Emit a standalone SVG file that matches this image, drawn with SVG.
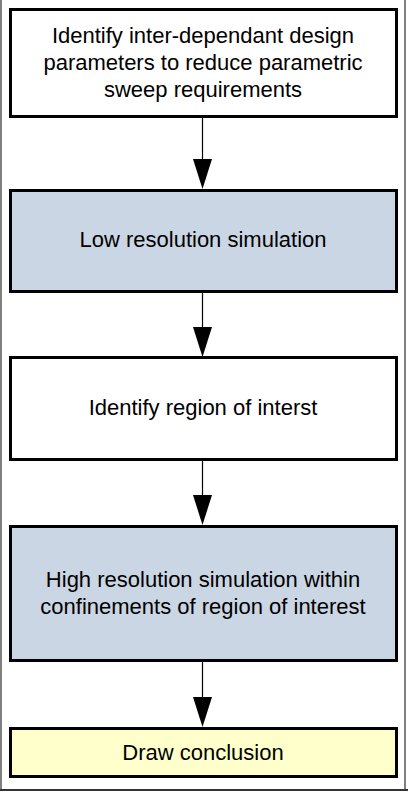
<svg xmlns="http://www.w3.org/2000/svg" width="408" height="792" viewBox="0 0 408 792">
<style>
.box{stroke:#000;stroke-width:3}
.t{font-family:"Liberation Sans",Arial,sans-serif;font-size:22px;fill:#000;text-anchor:middle}
.ln{stroke:#000;stroke-width:1.2;fill:none}
.hd{fill:#000}
</style>
<rect x="0" y="0" width="408" height="792" fill="#fff"/>
<g id="frame">
<line x1="1" y1="0" x2="1" y2="791" stroke="#808080" stroke-width="2"/>
<line x1="405" y1="0" x2="405" y2="791" stroke="#808080" stroke-width="2"/>
<line x1="0" y1="790" x2="408" y2="790" stroke="#333" stroke-width="2"/>
</g>
<g id="connectors">
<line class="ln" x1="202.5" y1="118" x2="202.5" y2="160"/>
<polygon class="hd" points="193,159 212,159 202.5,189"/>
<line class="ln" x1="202.5" y1="293" x2="202.5" y2="328"/>
<polygon class="hd" points="193,327 212,327 202.5,357"/>
<line class="ln" x1="202.5" y1="461" x2="202.5" y2="496"/>
<polygon class="hd" points="193,495 212,495 202.5,525"/>
<line class="ln" x1="202.5" y1="662" x2="202.5" y2="698"/>
<polygon class="hd" points="193,697 212,697 202.5,727"/>
</g>
<g id="n1">
<rect class="box" x="10.5" y="9.5" width="386" height="107" fill="#fff"/>
<text class="t" x="203" y="43">Identify inter-dependant design</text>
<text class="t" x="203" y="70">parameters to reduce parametric</text>
<text class="t" x="203" y="97">sweep requirements</text>
</g>
<g id="n2">
<rect class="box" x="10.5" y="190.5" width="386" height="101" fill="#cad6e4"/>
<text class="t" x="203" y="247">Low resolution simulation</text>
</g>
<g id="n3">
<rect class="box" x="10.5" y="357.5" width="386" height="102" fill="#fff"/>
<text class="t" x="203" y="415">Identify region of interst</text>
</g>
<g id="n4">
<rect class="box" x="10.5" y="526.5" width="386" height="134" fill="#cad6e4"/>
<text class="t" x="203" y="587">High resolution simulation within</text>
<text class="t" x="203" y="614">confinements of region of interest</text>
</g>
<g id="n5">
<rect class="box" x="10.5" y="728.5" width="386" height="48" fill="#ffffcc"/>
<text class="t" x="203" y="760">Draw conclusion</text>
</g>
</svg>
